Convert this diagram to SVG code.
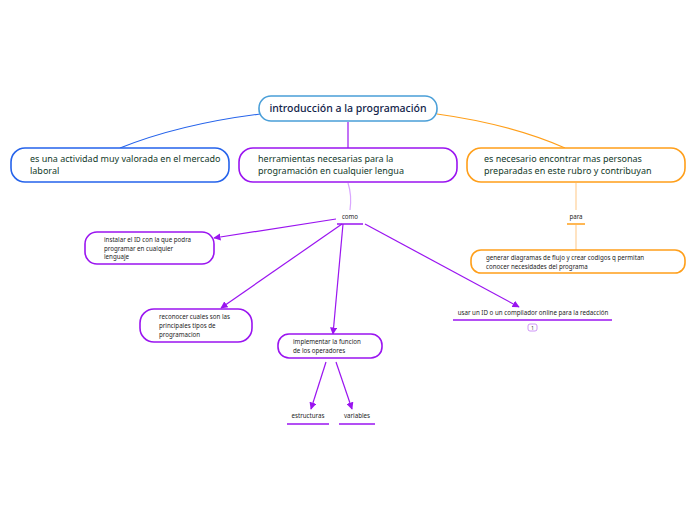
<svg xmlns="http://www.w3.org/2000/svg" width="696" height="520" viewBox="0 0 696 520">
<style>
text{font-family:"Noto Sans","Open Sans",sans-serif;fill:#1d1d1d}
.big{font-size:9px;fill:#123a2a}
.sm{font-size:6.2px}
.n{fill:#fff;stroke-width:1.6}
.p{stroke:#9a14f0}
.c{fill:none;stroke-width:1.2}
</style>
<defs><marker id="a" viewBox="0 0 10 10" refX="9" refY="5" markerWidth="6" markerHeight="6" orient="auto"><path d="M0,0L10,5L0,10z" fill="#9a14f0"/></marker></defs>
<rect width="696" height="520" fill="#fff"/>
<g id="connectors">
<path class="c" stroke="#2563eb" d="M260,114 Q180,124 120,148"/>
<path class="c" stroke="#ff9f1a" d="M437,114 Q510,124 565,148"/>
<path class="c p" d="M348,122 V148"/>
<path class="c" stroke="#d9a6ff" d="M348,183 Q352,195 350,210"/>
<path class="c" stroke="#ffd199" d="M576,183 V210 M576,225 V250"/>
<path class="c p" marker-end="url(#a)" d="M336,219 L214,238"/>
<path class="c p" marker-end="url(#a)" d="M342,224 L221,308"/>
<path class="c p" marker-end="url(#a)" d="M343,224 L333,334"/>
<path class="c p" marker-end="url(#a)" d="M365,224 L519,307"/>
<path class="c p" marker-end="url(#a)" d="M326,362 L311,409"/>
<path class="c p" marker-end="url(#a)" d="M336,362 L352,409"/>
</g>
<g id="root"><rect class="n" x="259" y="96" width="178" height="25" rx="12" stroke="#4a9fd8"/><text x="348" y="112" text-anchor="middle" style="font-size:10.5px;font-weight:500;fill:#12234a">introducción a la programación</text></g>
<g id="n1"><rect class="n" x="11" y="148" width="218" height="34" rx="14" stroke="#2563eb"/><text class="big" x="30" y="162">es una actividad muy valorada en el mercado</text><text class="big" x="30" y="174">laboral</text></g>
<g id="n2"><rect class="n p" x="239" y="148" width="218" height="34" rx="14"/><text class="big" x="258" y="162">herramientas necesarias para la</text><text class="big" x="258" y="174">programación en cualquier lengua</text></g>
<g id="n3"><rect class="n" x="467" y="148" width="218" height="34" rx="14" stroke="#ff9f1a"/><text class="big" x="484" y="162">es necesario encontrar mas personas</text><text class="big" x="484" y="174">preparadas en este rubro y contribuyan</text></g>
<g id="como"><text class="sm" x="350" y="219" text-anchor="middle">como</text><line x1="337" y1="224" x2="363" y2="224" stroke="#9a14f0" stroke-width="1.5"/></g>
<g id="para"><text class="sm" x="576" y="219" text-anchor="middle">para</text><line x1="567" y1="224" x2="585" y2="224" stroke="#ff9f1a" stroke-width="1.5"/></g>
<g id="n4"><rect class="n p" x="85" y="232" width="129" height="32" rx="12"/><text class="sm" x="104" y="242">instalar el ID con la que podra</text><text class="sm" x="104" y="250.5">programar en cualquier</text><text class="sm" x="104" y="259">lenguaje</text></g>
<g id="n5"><rect class="n" x="471" y="250" width="214" height="23" rx="10" stroke="#ff9f1a"/><text class="sm" x="486" y="260">generar diagramas de flujo y crear codigos q permitan</text><text class="sm" x="486" y="269">conocer necesidades del programa</text></g>
<g id="n6"><rect class="n p" x="140" y="309" width="112" height="33" rx="14"/><text class="sm" x="159" y="319">reconocer cuales son las</text><text class="sm" x="159" y="328">principales tipos de</text><text class="sm" x="159" y="337">programacion</text></g>
<g id="n7"><rect class="n p" x="278" y="334" width="104" height="24" rx="11"/><text class="sm" x="293" y="344">implementar la funcion</text><text class="sm" x="293" y="353">de los operadores</text></g>
<g id="n8"><text class="sm" x="533" y="315" text-anchor="middle">usar un ID o un compilador online para la redacción</text><line x1="453" y1="320" x2="612" y2="320" stroke="#9a14f0" stroke-width="1.5"/><rect x="528" y="324" width="9" height="7" rx="2" fill="#fff" stroke="#c27cf5" stroke-width="0.8"/><text x="532.5" y="330" text-anchor="middle" style="font-size:4.5px">1</text></g>
<g id="n9"><text class="sm" x="308" y="418" text-anchor="middle">estructuras</text><line x1="287" y1="424" x2="329" y2="424" stroke="#9a14f0" stroke-width="1.5"/></g>
<g id="n10"><text class="sm" x="357" y="418" text-anchor="middle">variables</text><line x1="339" y1="424" x2="375" y2="424" stroke="#9a14f0" stroke-width="1.5"/></g>
</svg>
